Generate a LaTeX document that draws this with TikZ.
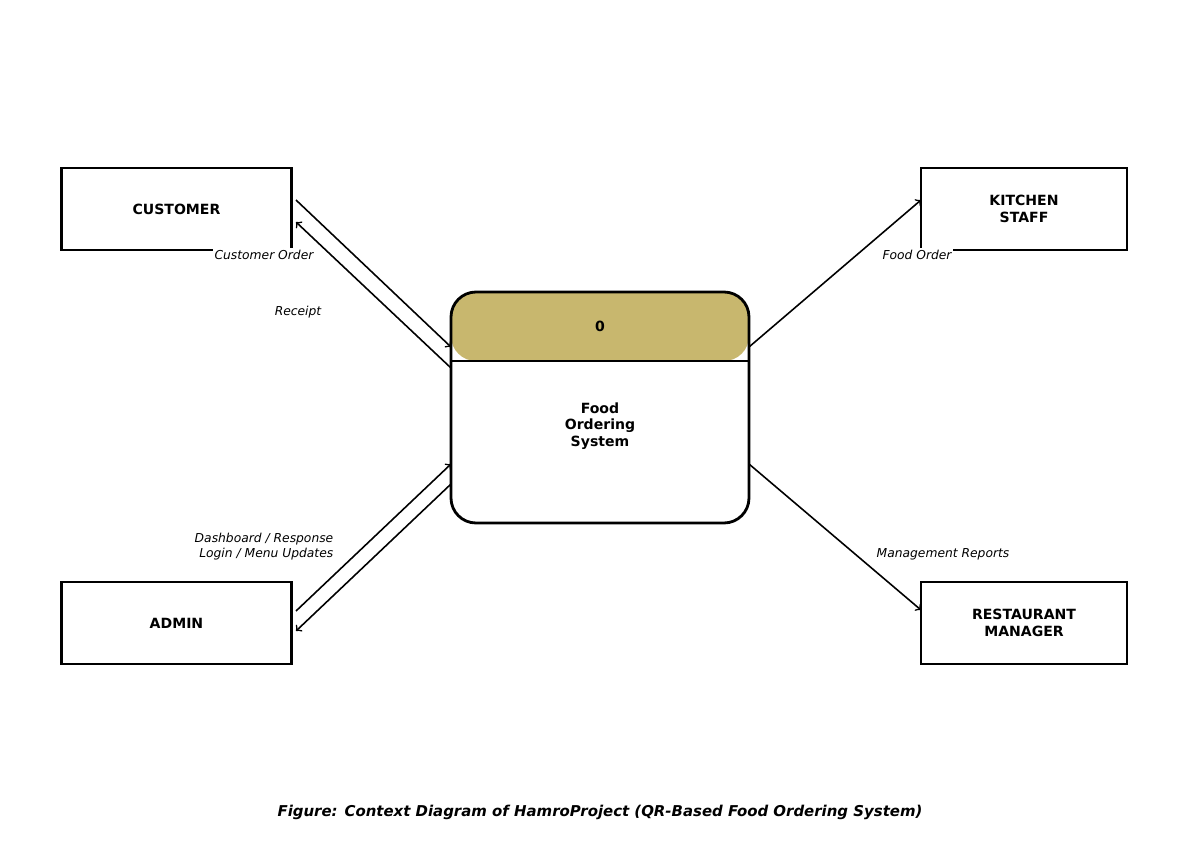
\documentclass[tikz,border=0pt]{standalone}
\usepackage{fontspec}
\setmainfont{DejaVu Sans}
\usetikzlibrary{positioning}
\definecolor{hdrgold}{HTML}{C8B76E}

\begin{document}
\begin{tikzpicture} [
		x=0.02cm, y=-0.02cm,
		every node/.style={font=\fontsize{8}{9.5}\selectfont\bfseries, align=center},
		entity/.style={draw=black, line width=1.6pt, minimum width=4.6cm, minimum height=1.64cm},
		entity2/.style={entity, minimum width=4.12cm},
		flow/.style={->, line width=0.9pt},
		lbl/.style={font=\fontsize{7}{8.5}\selectfont\itshape, inner sep=1pt}
	]
	\useasboundingbox (0,0) rectangle (1200,849);

	\node (cust) [entity] at (176.5,209) {CUSTOMER};
	\node (admin) [entity] at (176.5,623) {ADMIN};
	\node (kitchen) [entity2] at (1024,209) {KITCHEN\\STAFF};
	\node (mgr) [entity2] at (1024,623) {RESTAURANT\\MANAGER};

	% process box
	\fill[hdrgold, rounded corners=0.5cm] (451,361) -- (451,292) -- (749,292) -- (749,361) -- cycle;
	\draw[line width=1.6pt, rounded corners=0.5cm] (451,292) rectangle (749,523);
	\draw[line width=1.2pt] (451,361) -- (749,361);
	\node (pnum) at (600,326) {0};
	\node (proc) at (600,426) {Food\\Ordering\\System};
	\coordinate (pinA) at (451,347);
	\coordinate (poutA) at (451,368);
	\coordinate (pinB) at (451,464);
	\coordinate (poutB) at (451,484);
	\coordinate (prA) at (749,347);
	\coordinate (prB) at (749,464);
	\coordinate (cA) at (296,200);
	\coordinate (cB) at (296,222);
	\coordinate (aA) at (296,611);
	\coordinate (aB) at (296,631);
	\coordinate (kA) at (921,200);
	\coordinate (mA) at (921,610);

	\draw[flow] (cA) -- (pinA);
	\draw[flow] (poutA) -- (cB);
	\draw[flow] (aA) -- (pinB);
	\draw[flow] (poutB) -- (aB);
	\draw[flow] (prA) -- (kA);
	\draw[flow] (prB) -- (mA);

	\node (lco) [lbl, fill=white] at (264,255) {Customer Order};
	\node (lrc) [lbl] at (298,312) {Receipt};
	\node (lfo) [lbl, fill=white] at (917,255) {Food Order};
	\node (ldr) [lbl, align=right] at (264,547) {Dashboard / Response\\Login / Menu Updates};
	\node (lmr) [lbl] at (943,554) {Management Reports};

	\node (caption) [font=\fontsize{8.5}{10}\selectfont\bfseries\itshape] at (600,812)
		{Figure: Context Diagram of HamroProject (QR-Based Food Ordering System)};
\end{tikzpicture}
\end{document}
